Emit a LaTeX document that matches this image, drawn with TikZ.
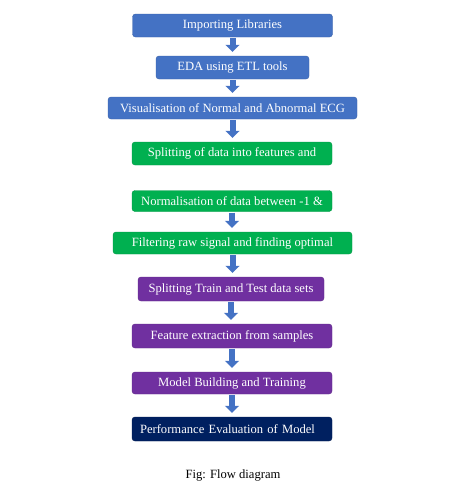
\documentclass[tikz,border=0pt]{standalone}
\usepackage{fontspec}
\setmainfont{Liberation Serif}
\usepackage{xcolor}
\usetikzlibrary{calc,arrows.meta}
\definecolor{flblue}{RGB}{68, 114, 196}
\definecolor{flgreen}{RGB}{0, 176, 80}
\definecolor{flpurple}{RGB}{112, 48, 160}
\definecolor{flnavy}{RGB}{0, 32, 96}

\begin{document}
\begin{tikzpicture}[x=1pt, y=-1pt,
    stepbox/.style={rounded corners=3pt, text=white, inner sep=0pt,
        font=\fontsize{12.6}{15}\selectfont, minimum height=23pt},
    flowarrow/.style={flblue, line width=6pt, shorten <=1pt, shorten >=4pt,
        -{Triangle[width=14pt, length=7pt]}}]
\useasboundingbox (0,0) rectangle (474,485);

% Stage 1: data preparation (blue)
\node[stepbox, fill=flblue, draw=flblue!85!black, minimum width=200pt] (imp) at (232.5,25.5) {Importing Libraries};
\node[stepbox, fill=flblue, draw=flblue!85!black, minimum width=153pt] (eda) at (232.5,67.5) {EDA using ETL tools};
\node[stepbox, fill=flblue, draw=flblue!85!black, minimum width=249pt, minimum height=22pt] (vis) at (232.5,108) {Visualisation of Normal and Abnormal ECG};

% Stage 2: preprocessing (green)
\node[stepbox, fill=flgreen, draw=flgreen!85!black, minimum width=200pt] (spl) at (232,153.5) {Splitting of data into features and};
\node[stepbox, fill=flgreen, draw=flgreen!85!black, minimum width=200pt, minimum height=21pt] (nrm) at (232,201) {Normalisation of data between -1 \&};
\node[stepbox, fill=flgreen, draw=flgreen!85!black, minimum width=239pt, minimum height=22pt] (flt) at (232.5,243) {Filtering raw signal and finding optimal};

% Stage 3: modelling (purple)
\node[stepbox, fill=flpurple, draw=flpurple!85!black, minimum width=186pt, minimum height=24pt] (tts) at (231,289) {Splitting Train and Test data sets};
\node[stepbox, fill=flpurple, draw=flpurple!85!black, minimum width=200pt, minimum height=24pt] (fex) at (232,336) {Feature extraction from samples};
\node[stepbox, fill=flpurple, draw=flpurple!85!black, minimum width=200pt, minimum height=22pt] (mdl) at (232,383) {Model Building and Training};

% Stage 4: evaluation (navy)
\node[stepbox, fill=flnavy, draw=flnavy!85!black, text width=184pt, inner xsep=8pt, align=left, minimum height=24pt] (prf) at (232,429) {Performance Evaluation of Model};

% Arrows between steps (none between spl and nrm)
\foreach \a/\b in {imp/eda, eda/vis, vis/spl, nrm/flt, flt/tts, tts/fex, fex/mdl, mdl/prf} {
    \draw[flowarrow] (\a.south) -- (\a.south |- \b.north);
}

\node[font=\fontsize{12.6}{15}\selectfont] (cap) at (233,475) {Fig: Flow diagram};
\end{tikzpicture}
\end{document}
